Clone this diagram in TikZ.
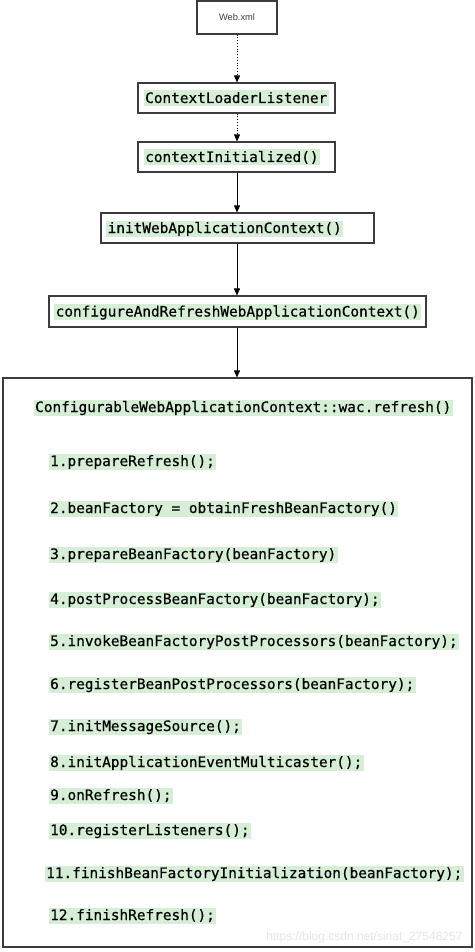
\documentclass[tikz,border=0pt]{standalone}
\usepackage{fontspec}
\setmonofont[FakeBold=0.4]{DejaVu Sans Mono}
\newfontfamily\uisans{Liberation Sans}
\usetikzlibrary{arrows.meta,shadows}
\definecolor{hl}{RGB}{214,238,214}
\definecolor{frame}{RGB}{60,60,60}
\tikzset{
  boxnode/.style={draw=frame, line width=1.1pt, fill=white, inner sep=0pt,
    drop shadow={shadow xshift=1pt, shadow yshift=-1pt, opacity=0.25, fill=black}},
  codetxt/.style={anchor=base west, fill=hl, inner xsep=1.5pt, inner ysep=0pt,
    text height=12.5pt, text depth=3.5pt, font=\ttfamily\fontsize{14.4}{16}\selectfont, text=black},
  dotarrow/.style={dotted, line width=0.8pt, -{Triangle[length=7pt,width=6pt]}},
  solarrow/.style={line width=0.9pt, -{Triangle[length=7pt,width=6pt]}}
}
\begin{document}
\begin{tikzpicture}[x=1pt,y=-1pt]
\useasboundingbox[fill=white] (0,0) rectangle (474,952);
% boxes
\node[boxnode, minimum width=80pt, minimum height=33pt] (web) at (237,17.5) {};
\node[font=\uisans\fontsize{9.3}{11}\selectfont, text=black!75] (webt) at (237,17.5) {Web.xml};
\node[boxnode, minimum width=197pt, minimum height=30pt] (cll) at (236.5,98) {};
\node[boxnode, minimum width=197pt, minimum height=30pt] (ci) at (236.5,157) {};
\node[boxnode, minimum width=273pt, minimum height=30pt] (iwac) at (237.5,228) {};
\node[boxnode, minimum width=377pt, minimum height=31pt] (carwac) at (237.5,311.5) {};
\node[boxnode, minimum width=469pt, minimum height=569pt] (big) at (237.5,662.5) {};
% box texts
\node[codetxt] (t1) at (143.5,103) {ContextLoaderListener};
\node[codetxt] (t2) at (143.5,162) {contextInitialized()};
\node[codetxt] (t3) at (106,233) {initWebApplicationContext()};
\node[codetxt] (t4) at (54,316.5) {configureAndRefreshWebApplicationContext()};
% inner lines
\node[codetxt] (l0) at (33.5,412) {ConfigurableWebApplicationContext::wac.refresh()};
\node[codetxt] (l1) at (48.5,466) {1.prepareRefresh();};
\node[codetxt] (l2) at (48.5,513) {2.beanFactory = obtainFreshBeanFactory()};
\node[codetxt] (l3) at (48.5,559) {3.prepareBeanFactory(beanFactory)};
\node[codetxt] (l4) at (48.5,604) {4.postProcessBeanFactory(beanFactory);};
\node[codetxt] (l5) at (48.5,646) {5.invokeBeanFactoryPostProcessors(beanFactory);};
\node[codetxt] (l6) at (48.5,689) {6.registerBeanPostProcessors(beanFactory);};
\node[codetxt] (l7) at (48.5,731) {7.initMessageSource();};
\node[codetxt] (l8) at (48.5,767) {8.initApplicationEventMulticaster();};
\node[codetxt] (l9) at (48.5,800) {9.onRefresh();};
\node[codetxt] (l10) at (48.5,835) {10.registerListeners();};
\node[codetxt] (l11) at (44.5,878) {11.finishBeanFactoryInitialization(beanFactory);};
\node[codetxt] (l12) at (48.5,920) {12.finishRefresh();};
\node[anchor=base east, font=\uisans\fontsize{12}{14}\selectfont, text=black!10] (wm) at (466,940) {https://blog.csdn.net/sinat\_27548257};
% connectors
\draw[dotarrow] (web.south -| 237,0) -- (cll.north -| 237,0);
\draw[dotarrow] (cll.south -| 237,0) -- (ci.north -| 237,0);
\draw[solarrow] (ci.south -| 237,0) -- (iwac.north -| 237,0);
\draw[solarrow] (iwac.south -| 237,0) -- (carwac.north -| 237,0);
\draw[solarrow] (carwac.south -| 237,0) -- (big.north -| 237,0);
\end{tikzpicture}
\end{document}
